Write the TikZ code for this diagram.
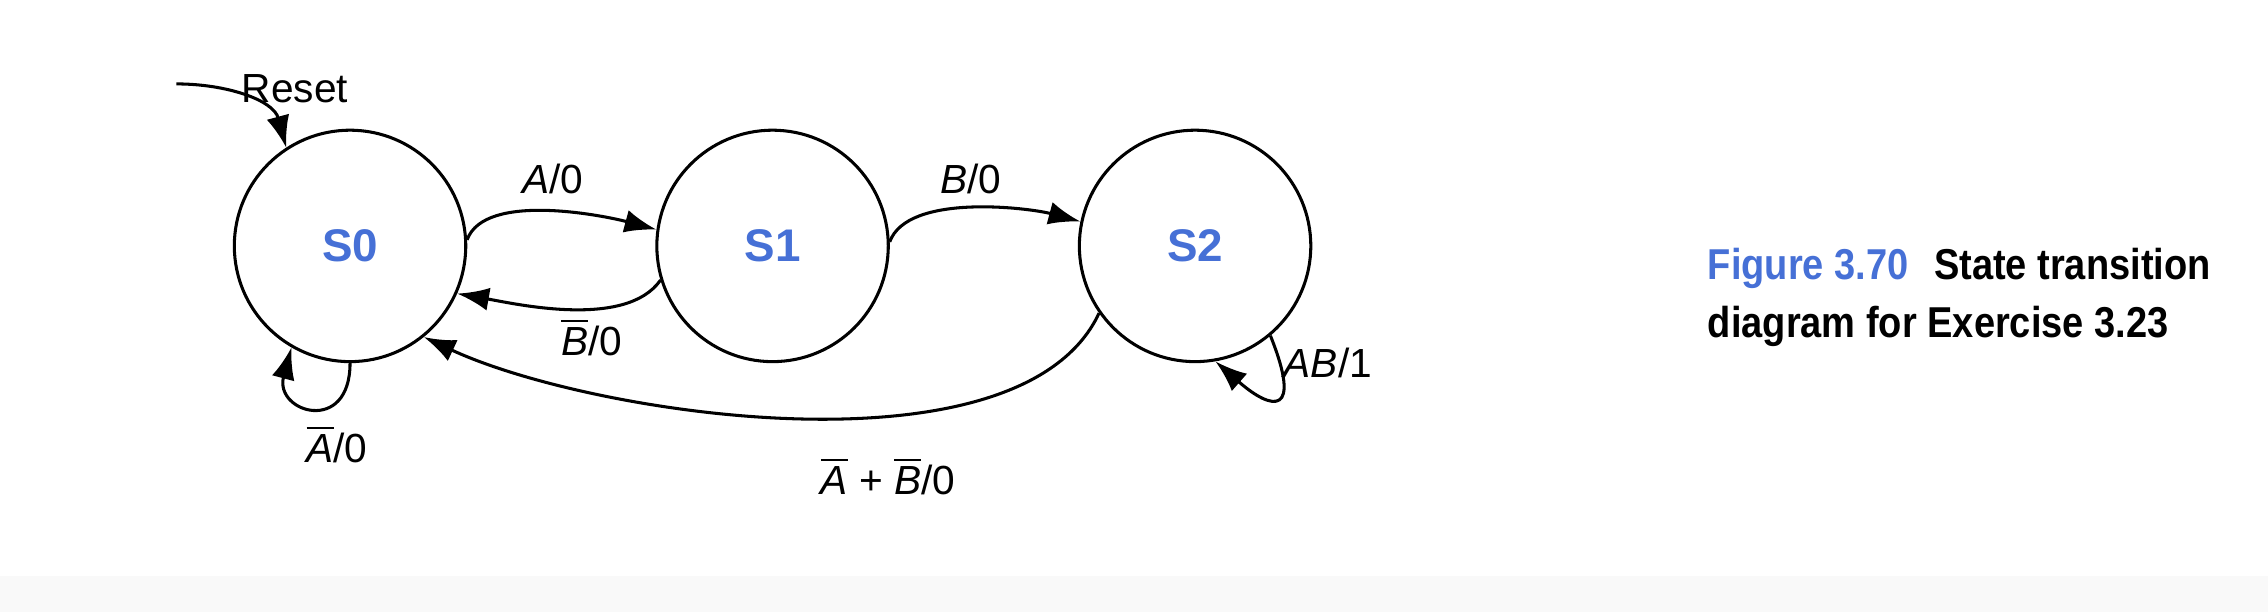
\documentclass[tikz,border=0pt]{standalone}
\usepackage{fontspec}
\setmainfont{Liberation Sans}
\newfontfamily\capfont{Liberation Sans}[FakeStretch=0.88]
\usetikzlibrary{
	arrows.meta,
	positioning
}
\definecolor{stateblue}{RGB}{70,112,214}
\definecolor{bandgray}{RGB}{249,249,249}
\newcommand{\cmpl}[1]{$\overline{\mbox{\itshape #1}}$}

\begin{document}
\begin{tikzpicture}[
		node distance = 1.3cm and 1.3cm,
		state/.style={
			draw,
			circle,
			line width = 0.6pt,
			minimum size = 1.6cm,
			inner sep = 0pt,
			text = stateblue,
			font = \fontsize{9}{10}\selectfont\bfseries
		},
		lbl/.style={
			anchor = base,
			inner sep = 0pt,
			font = \fontsize{8}{9}\selectfont
		},
		figcap/.style={
			anchor = base west,
			inner sep = 0pt,
			font = \capfont\fontsize{8.5}{10}\selectfont\bfseries
		},
		trans/.style={
			draw,
			line width = 0.6pt,
			-{Latex[length=2.2mm, width=1.6mm]}
		}
		]
		
		\useasboundingbox (0,0) rectangle (15.68,4.23);
		\fill[bandgray] (0,0) rectangle (15.68,0.25);
		
		\node[state] (S0) at (2.42,2.53) {S0};
		\node[state, right = of S0] (S1) {S1};
		\node[state, right = of S1] (S2) {S2};
		\coordinate (start) at (1.22,3.65);
		
		\node[lbl] (reset) at (2.04,3.52) {Reset};
		\node[lbl] (a0) at (3.82,2.89) {\textit{A}/0};
		\node[lbl] (nb0) at (4.09,1.77) {\cmpl{B}/0};
		\node[lbl] (b0) at (6.71,2.89) {\textit{B}/0};
		\node[lbl] (na0) at (2.33,1.03) {\cmpl{A}/0};
		\node[lbl] (nanb0) at (6.14,0.81) {\cmpl{A} + \cmpl{B}/0};
		\node[lbl] (ab1) at (9.18,1.62) {\textit{AB}/1};
		
		\draw[trans] (start) to[out=0, in=105] (S0.123);
		\draw[trans] (S0.3) to[out=70, in=165, looseness=0.7] (S1.172);
		\draw[trans] (S1.197) to[out=235, in=-10, looseness=0.75] (S0.-24);
		\draw[trans] (S1.2) to[out=70, in=165, looseness=0.7] (S2.168);
		\draw[trans] (S2.215) to[out=245, in=-25, looseness=0.7] (S0.-51);
		\draw[trans] (S0.-90) .. controls +(0,-0.5) and +(-0.12,-0.45) .. (S0.-120);
		\draw[trans] (S2.-50) .. controls +(0.22,-0.55) and +(0.4,-0.35) .. (S2.-80);
		
		\node[figcap] (capline1) at (11.80,2.30) {\textcolor{stateblue}{Figure 3.70}\hspace{5pt}State transition};
		\node[figcap] (capline2) at (11.80,1.90) {diagram for Exercise 3.23};
	\end{tikzpicture}
\end{document}
